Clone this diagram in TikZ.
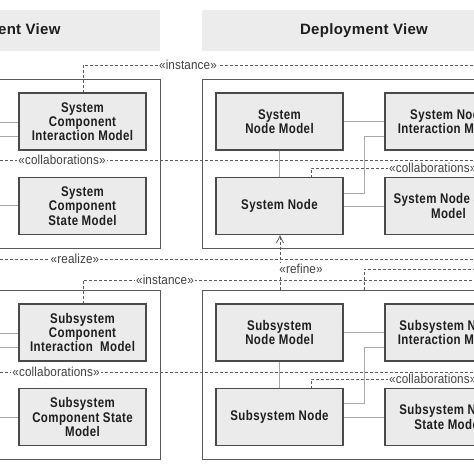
\documentclass[tikz,border=0pt]{standalone}
\usepackage{fontspec}
\setmainfont{Liberation Sans}
\newfontfamily\boxfont{Liberation Sans}[LetterSpace=3,FakeStretch=0.82]
\newfontfamily\headfont{Liberation Sans}[LetterSpace=2]
\newfontfamily\lblfont{Liberation Sans}[FakeStretch=0.9,LetterSpace=1]
\usetikzlibrary{arrows.meta}
\definecolor{boxfill}{HTML}{EBEBEB}
\definecolor{boxline}{HTML}{4A4A4A}
\definecolor{outerline}{HTML}{5A5A5A}
\definecolor{connline}{HTML}{A8A8A8}
\definecolor{dashline}{HTML}{5A5A5A}
\definecolor{lbltext}{HTML}{404040}
\definecolor{boxtext}{HTML}{1E1E1E}
\definecolor{headfill}{HTML}{ECECEC}
\begin{document}
\begin{tikzpicture}[x=1pt,y=-1pt,
  mbox/.style={draw=boxline, line width=1.3pt, fill=boxfill, minimum width=127pt, minimum height=57pt,
    inner sep=0pt, align=center, text=boxtext, font=\boxfont\bfseries\fontsize{14}{14.3}\selectfont},
  outerbox/.style={draw=outerline, line width=1pt, minimum width=324pt, minimum height=169pt, inner sep=0pt},
  headbox/.style={fill=headfill, minimum width=324pt, minimum height=41pt, inner sep=0pt,
    text=boxtext, font=\headfont\bfseries\fontsize{15}{18}\selectfont},
  conn/.style={draw=connline, line width=1pt},
  dashln/.style={draw=dashline, line width=0.8pt, dash pattern=on 3pt off 2pt},
  lbl/.style={fill=white, inner sep=1pt, text=lbltext, font=\lblfont\fontsize{13}{14}\selectfont},
  refinetip/.style={-{Straight Barb[length=7pt,width=7pt,line width=0.8pt]}}
]
\useasboundingbox (0,0) rectangle (474,474);
\clip (0,0) rectangle (474,474);

% headers
\node[headbox] (hL) at (-2,30.5) {Component View};
\node[headbox] (hR) at (364,30.5) {Deployment View};

% outer boxes
\node[outerbox] (oTL) at (-2,163.5) {};
\node[outerbox] (oTR) at (364,163.5) {};
\node[outerbox] (oBL) at (-2,374.5) {};
\node[outerbox] (oBR) at (364,374.5) {};

% off-image anchor points on the left
\coordinate (cL1) at (-23,122);
\coordinate (cL2) at (-23,136);
\coordinate (cL3) at (-23,205);
\coordinate (cL4) at (-23,333);
\coordinate (cL5) at (-23,347);
\coordinate (cL6) at (-23,417);

% dashed helper coordinates
\coordinate (eI1) at (480,65);
\coordinate (eC1a) at (480,160);
\coordinate (sC1a) at (-5,160);
\coordinate (eC1b) at (480,168);
\coordinate (sRz) at (-5,259);
\coordinate (eRz) at (480,259);
\coordinate (eI2) at (480,280);
\coordinate (rA) at (364,290);
\coordinate (eRA) at (480,269);
\coordinate (rf) at (280,290);
\coordinate (sC2a) at (-5,372);
\coordinate (eC2a) at (480,372);
\coordinate (eC2b) at (480,379);

% dashed lines (behind)
\draw[dashln] (83,93) |- (eI1);
\draw[dashln] (sC1a) -- (eC1a);
\draw[dashln] (311,178) |- (eC1b);
\draw[dashln] (sRz) -- (eRz);
\draw[dashln] (83,304) |- (eI2);
\draw[dashln] (rA) |- (eRA);
\draw[dashln] (sC2a) -- (eC2a);
\draw[dashln] (311,389) |- (eC2b);

% inner boxes top
\node[mbox] (SCIM) at (82.5,121.5) {System\\Component\\Interaction Model};
\node[mbox] (SCSM) at (82.5,206) {System\\Component\\State Model};
\node[mbox] (SNM) at (279.5,121.5) {System\\Node Model};
\node[mbox] (SN) at (279.5,206) {System Node};
\node[mbox] (SNIM) at (448.5,121.5) {System Node\\Interaction Model};
\node[mbox] (SNSM) at (448.5,206) {System Node State\\Model};

% inner boxes bottom
\node[mbox] (SsCIM) at (82.5,332.5) {Subsystem\\Component\\Interaction\ \ Model};
\node[mbox] (SsCSM) at (82.5,417) {Subsystem\\Component State\\Model};
\node[mbox] (SsNM) at (279.5,332.5) {Subsystem\\Node Model};
\node[mbox] (SsN) at (279.5,417) {Subsystem Node};
\node[mbox] (SsNIM) at (448.5,332.5) {Subsystem Node\\Interaction Model};
\node[mbox] (SsNSM) at (448.5,417) {Subsystem Node\\State Model};

% refine arrow
\draw[dashln, refinetip] (rf) -- (SN.south -| rf);

% connectors top
\draw[conn] (cL1) -- (SCIM.west |- cL1);
\draw[conn] (cL2) -- (SCIM.west |- cL2);
\draw[conn] (cL3) -- (SCSM.west |- cL3);
\draw[conn] (SNM.east) -- (SNIM.west);
\draw[conn] (SNM.south) -- (SN.north);
\coordinate (kA) at (364,193);
\coordinate (kB) at (364,136);
\draw[conn] (SN.east |- kA) -- (kA) -- (kB) -- (SNIM.west |- kB);
\draw[conn] (SN.east) -- (SNSM.west);

% connectors bottom
\draw[conn] (cL4) -- (SsCIM.west |- cL4);
\draw[conn] (cL5) -- (SsCIM.west |- cL5);
\draw[conn] (cL6) -- (SsCSM.west |- cL6);
\draw[conn] (SsNM.east) -- (SsNIM.west);
\draw[conn] (SsNM.south) -- (SsN.north);
\coordinate (kC) at (364,403);
\coordinate (kD) at (364,347);
\draw[conn] (SsN.east |- kC) -- (kC) -- (kD) -- (SsNIM.west |- kD);
\draw[conn] (SsN.east) -- (SsNSM.west);

% labels
\node[lbl] (lI1) at (188,65) {«instance»};
\node[lbl] (lC1) at (62,160) {«collaborations»};
\node[lbl, anchor=west] (lC1b) at (388,168) {«collaborations»};
\node[lbl] (lRz) at (75,259) {«realize»};
\node[lbl] (lRf) at (301,269) {«refine»};
\node[lbl] (lI2) at (165,280) {«instance»};
\node[lbl] (lC2) at (56,372) {«collaborations»};
\node[lbl, anchor=west] (lC2b) at (388,379) {«collaborations»};
\end{tikzpicture}
\end{document}
